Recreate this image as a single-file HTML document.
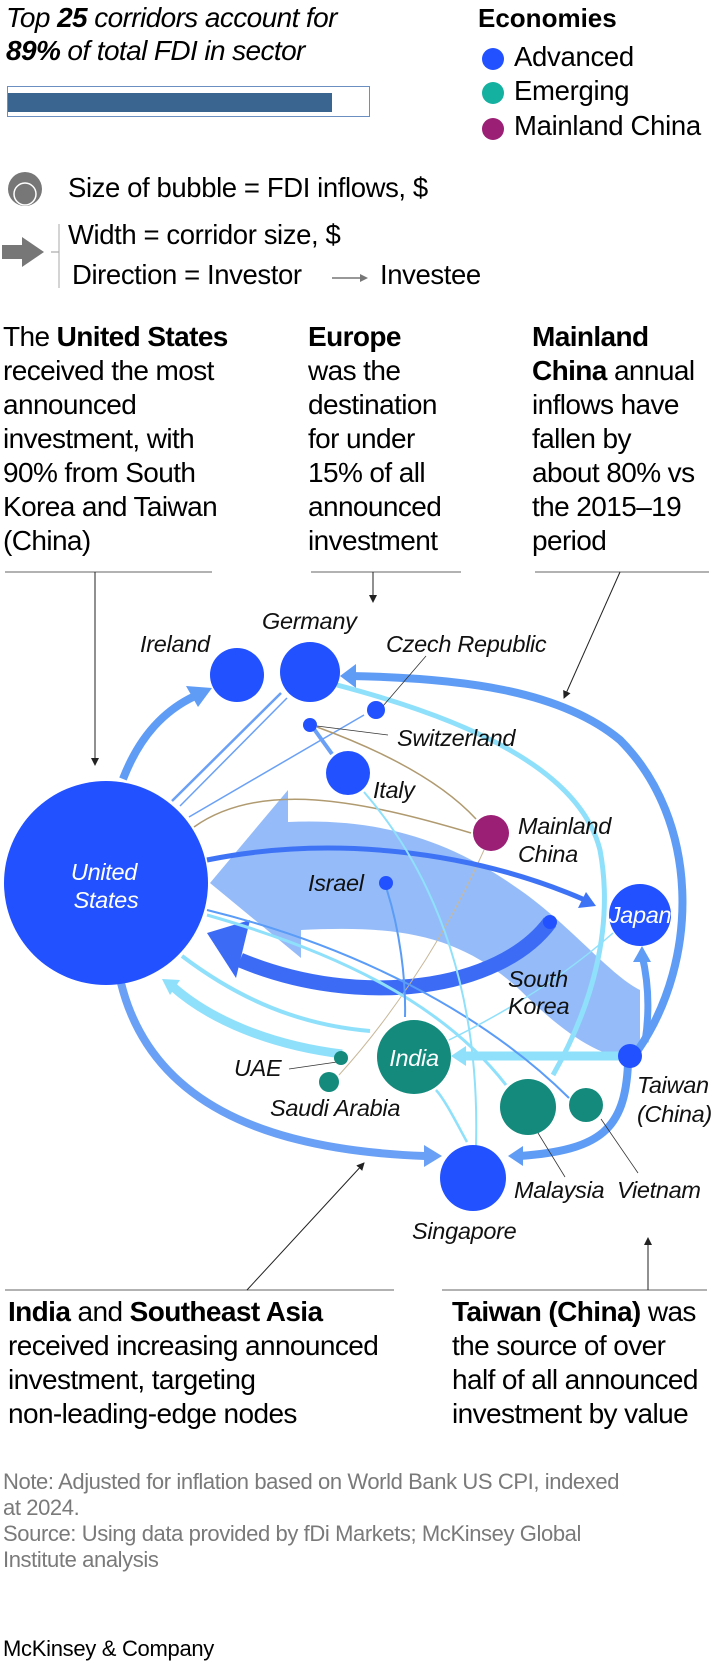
<!DOCTYPE html>
<html><head><meta charset="utf-8">
<style>
html,body{margin:0;padding:0;background:#fff;}
body{width:711px;height:1667px;position:relative;overflow:hidden;font-family:"Liberation Sans",sans-serif;color:#000;}
.t{position:absolute;white-space:nowrap;}
.ann{position:absolute;font-size:28px;line-height:34px;white-space:nowrap;letter-spacing:-0.6px;}
</style></head><body>
<div class="t" style="left:6px;top:1px;font-size:28px;line-height:33px;font-style:italic;letter-spacing:-0.6px">Top <b>25</b> corridors account for<br><b>89%</b> of total FDI in sector</div>
<div style="position:absolute;left:7px;top:86px;width:363px;height:31px;border:1px solid #6a8fc0;box-sizing:border-box"></div>
<div style="position:absolute;left:8px;top:93px;width:324px;height:19px;background:#3a6591"></div>
<div class="t" style="left:478px;top:3px;font-size:26px;font-weight:bold">Economies</div>
<div style="position:absolute;left:482px;top:48px;width:22px;height:22px;border-radius:50%;background:#2251ff"></div>
<div style="position:absolute;left:482px;top:82px;width:22px;height:22px;border-radius:50%;background:#14b0a0"></div>
<div style="position:absolute;left:482px;top:118px;width:22px;height:22px;border-radius:50%;background:#9b1f75"></div>
<div class="t" style="left:514px;top:41px;font-size:27.5px;letter-spacing:-0.3px">Advanced</div>
<div class="t" style="left:514px;top:75px;font-size:27.5px;letter-spacing:-0.3px">Emerging</div>
<div class="t" style="left:514px;top:110px;font-size:27.5px;letter-spacing:-0.3px">Mainland China</div>

<svg style="position:absolute;left:0;top:0" width="711" height="300">
<circle cx="25" cy="189" r="17" fill="#777"/>
<circle cx="25" cy="194" r="11" fill="none" stroke="#fff" stroke-width="1.5"/>
<polygon points="2,245 22,245 22,237 44,252 22,267 22,259 2,259" fill="#777"/>
<line x1="51" y1="252" x2="59" y2="252" stroke="#999"/>
<line x1="59" y1="224" x2="59" y2="288" stroke="#aaa"/>
<line x1="332" y1="278" x2="362" y2="278" stroke="#777" stroke-width="1.5"/>
<polygon points="360,274 368,278 360,282" fill="#777"/>
</svg>
<div class="t" style="left:68px;top:172px;font-size:27.5px;letter-spacing:-0.4px">Size of bubble = FDI inflows, $</div>
<div class="t" style="left:68px;top:219px;font-size:27.5px;letter-spacing:-0.4px">Width = corridor size, $</div>
<div class="t" style="left:72px;top:259px;font-size:27.5px;letter-spacing:-0.4px">Direction = Investor</div>
<div class="t" style="left:380px;top:259px;font-size:27.5px;letter-spacing:-0.4px">Investee</div>

<div class="ann" style="left:3px;top:320px">The <b>United States</b><br>received the most<br>announced<br>investment, with<br>90% from South<br>Korea and Taiwan<br>(China)</div>
<div class="ann" style="left:308px;top:320px"><b>Europe</b><br>was the<br>destination<br>for under<br>15% of all<br>announced<br>investment</div>
<div class="ann" style="left:532px;top:320px"><b>Mainland</b><br><b>China</b> annual<br>inflows have<br>fallen by<br>about 80% vs<br>the 2015–19<br>period</div>

<svg style="position:absolute;left:0;top:0" width="711" height="1667">
<defs>
<marker id="ak" markerWidth="8" markerHeight="8" refX="7" refY="4" orient="auto" markerUnits="userSpaceOnUse"><path d="M0,0 L8,4 L0,8Z" fill="#222"/></marker>
</defs>
<g stroke="#999" stroke-width="1.5">
<line x1="5" y1="572" x2="212" y2="572"/><line x1="311" y1="572" x2="461" y2="572"/><line x1="535" y1="572" x2="709" y2="572"/>
<line x1="5" y1="1290" x2="394" y2="1290"/><line x1="442" y1="1290" x2="707" y2="1290"/>
</g>
<g stroke="#222" stroke-width="1" fill="none" marker-end="url(#ak)">
<line x1="95" y1="572" x2="95" y2="765"/>
<line x1="373" y1="572" x2="373" y2="602"/>
<line x1="620" y1="572" x2="564" y2="698"/>
<line x1="247" y1="1290" x2="364" y2="1163"/>
<line x1="648" y1="1290" x2="648" y2="1238"/>
</g>

<path d="M210,883 L288,790 L288,822 C380,818 450,840 520,890 C570,925 610,975 640,990 L640,1060 C600,1060 560,1030 520,990 C460,935 400,925 301,930 L301,958 Z" fill="#8fb8f8" opacity="0.95"/>
<path d="M550,922 C500,990 360,1010 240,960" fill="none" stroke="#3c6cf6" stroke-width="15"/>
<polygon points="207,933 250,920 236,978" fill="#3c6cf6"/>

<g fill="none" stroke-linecap="butt">
<path d="M123,779 C140,735 165,710 195,696" stroke="#5f9cf5" stroke-width="8"/>
<polygon points="212,688 186,686 198,707" fill="#5f9cf5"/>
<path d="M287,698 L180,806" stroke="#6aa0f5" stroke-width="1.5"/>
<path d="M281,693 L172,801" stroke="#6aa0f5" stroke-width="2.5"/>
<path d="M189,817 L364,715" stroke="#6aa0f5" stroke-width="1.5"/>
<path d="M314,729 L332,754" stroke="#6aa0f5" stroke-width="4"/>
<path d="M317,727 C380,750 440,780 476,819" stroke="#b09a70" stroke-width="1.5"/>
<path d="M194,827 C260,780 360,800 471,833" stroke="#b09a70" stroke-width="1.5"/>
<path d="M484,850 C440,950 380,1030 339,1075" stroke="#c8b89a" stroke-width="1"/>
<path d="M207,860 C330,835 470,850 585,900" stroke="#3f73f5" stroke-width="5"/>
<polygon points="596,906 578,908 586,892" fill="#3f73f5"/>
<path d="M638,1050 C700,960 700,820 620,740 C560,690 460,678 350,676" stroke="#5f9cf5" stroke-width="8"/>
<polygon points="340,676 356,664 356,688" fill="#5f9cf5"/>
<path d="M337,685 C470,720 580,770 600,850 C615,930 590,1010 553,1075" stroke="#8fe0fb" stroke-width="5"/>
<path d="M645,1042 C650,1010 648,980 642,955" stroke="#5f9cf5" stroke-width="7"/>
<polygon points="642,946 633,962 651,962" fill="#5f9cf5"/>
<path d="M620,1056 L460,1056" stroke="#8fe0fb" stroke-width="9"/>
<polygon points="451,1056 466,1046 466,1066" fill="#8fe0fb"/>
<path d="M628,1064 C625,1130 600,1150 520,1156" stroke="#5f9cf5" stroke-width="8"/>
<polygon points="508,1156 523,1146 523,1166" fill="#5f9cf5"/>
<path d="M121,983 C150,1100 260,1150 425,1156" stroke="#6aa0f5" stroke-width="8"/>
<polygon points="442,1156 424,1145 424,1167" fill="#6aa0f5"/>
<path d="M342,1054 C270,1045 210,1020 172,986" stroke="#8fe0fb" stroke-width="9"/>
<polygon points="162,979 180,980 170,995" fill="#8fe0fb"/>
<path d="M182,956 C240,1000 300,1025 370,1031" stroke="#8fe0fb" stroke-width="4"/>
<path d="M207,915 C330,950 440,1000 506,1085" stroke="#8fe0fb" stroke-width="3"/>
<path d="M207,910 C350,945 480,1010 569,1098" stroke="#5a9cf7" stroke-width="2"/>
<path d="M386,887 C400,930 406,980 405,1017" stroke="#5a9cf7" stroke-width="2"/>
<path d="M476,1146 C480,1000 440,880 364,792" stroke="#8fe0fb" stroke-width="2"/>
<path d="M467,1142 C455,1120 445,1100 436,1090" stroke="#8fe0fb" stroke-width="2.5"/>
<path d="M613,933 C560,980 500,1015 449,1040" stroke="#8fe0fb" stroke-width="1.5"/>
</g>
<g stroke="#333" stroke-width="0.8">
<line x1="426" y1="656" x2="383" y2="706"/>
<line x1="317" y1="726" x2="388" y2="735"/>
<line x1="289" y1="1069" x2="337" y2="1062"/>
<line x1="538" y1="1133" x2="565" y2="1177"/>
<line x1="601" y1="1119" x2="638" y2="1173"/>
</g>
<g fill="#2251ff">
<circle cx="106" cy="883" r="102"/>
<circle cx="237" cy="675" r="27"/>
<circle cx="310" cy="672" r="30"/>
<circle cx="376" cy="710" r="9"/>
<circle cx="310" cy="725" r="7"/>
<circle cx="348" cy="773" r="22"/>
<circle cx="386" cy="883" r="7"/>
<circle cx="550" cy="922" r="7"/>
<circle cx="640" cy="915" r="31"/>
<circle cx="630" cy="1056" r="12"/>
<circle cx="473" cy="1178" r="33"/>
</g>
<circle cx="491" cy="833" r="18" fill="#9b1f75"/>
<g fill="#138a7c">
<circle cx="414" cy="1057" r="37"/>
<circle cx="341" cy="1058" r="7"/>
<circle cx="329" cy="1082" r="10"/>
<circle cx="528" cy="1107" r="28"/>
<circle cx="586" cy="1105" r="17"/>
</g>
<g font-family="Liberation Sans, sans-serif" font-size="23.5" font-style="italic" fill="#111" letter-spacing="-0.3">
<text x="140" y="652">Ireland</text>
<text x="262" y="629">Germany</text>
<text x="386" y="652">Czech Republic</text>
<text x="397" y="746">Switzerland</text>
<text x="373" y="798">Italy</text>
<text x="518" y="834">Mainland</text>
<text x="518" y="862">China</text>
<text x="308" y="891">Israel</text>
<text x="508" y="987">South</text>
<text x="508" y="1014">Korea</text>
<text x="234" y="1076">UAE</text>
<text x="270" y="1116">Saudi Arabia</text>
<text x="637" y="1093">Taiwan</text>
<text x="637" y="1122">(China)</text>
<text x="514" y="1198">Malaysia</text>
<text x="617" y="1198">Vietnam</text>
<text x="412" y="1239">Singapore</text>
<g fill="#fff">
<text x="104" y="880" text-anchor="middle">United</text>
<text x="106" y="908" text-anchor="middle">States</text>
<text x="640" y="923" text-anchor="middle">Japan</text>
<text x="414" y="1066" text-anchor="middle">India</text>
</g>
</g>
</svg>

<div class="ann" style="left:8px;top:1295px"><b>India</b> and <b>Southeast Asia</b><br>received increasing announced<br>investment, targeting<br>non-leading-edge nodes</div>
<div class="ann" style="left:452px;top:1295px"><b>Taiwan (China)</b> was<br>the source of over<br>half of all announced<br>investment by value</div>
<div class="t" style="left:3px;top:1469px;font-size:22px;line-height:26px;color:#7a7a7a;letter-spacing:-0.4px">Note: Adjusted for inflation based on World Bank US CPI, indexed<br>at 2024.<br>Source: Using data provided by fDi Markets; McKinsey Global<br>Institute analysis</div>
<div class="t" style="left:3px;top:1636px;font-size:22px;letter-spacing:-0.3px">McKinsey &amp; Company</div>
</body></html>
